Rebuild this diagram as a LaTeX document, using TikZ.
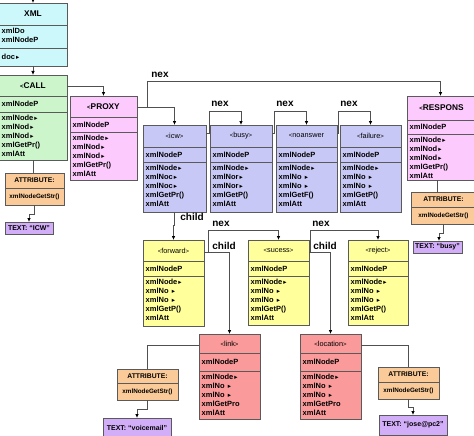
\documentclass[tikz,border=0pt]{standalone}
\usepackage{fontspec}
\setmainfont{Liberation Sans}
\newfontfamily\symf{DejaVu Sans}
\usetikzlibrary{arrows.meta,calc}
\definecolor{bordc}{HTML}{5A5A5A}
\definecolor{linec}{HTML}{505050}
\definecolor{cxml}{HTML}{CCF8FC}
\definecolor{ccall}{HTML}{CCF5CC}
\definecolor{cpink}{HTML}{FCCAFC}
\definecolor{clav}{HTML}{C8C8F6}
\definecolor{cyel}{HTML}{FFFF9C}
\definecolor{cred}{HTML}{FA9A9A}
\definecolor{corg}{HTML}{FACB98}
\definecolor{cpur}{HTML}{D2AEF8}
\newcommand{\mkr}{{\symf\fontsize{6.5}{5}\selectfont\,▸}}
\newcommand{\ltag}{{\fontsize{6}{5}\selectfont<}}
\newcommand{\rtag}{{\fontsize{6}{5}\selectfont>}}
\newcommand{\bt}{\bfseries\fontsize{8.3}{9}\selectfont}
\tikzset{
  box/.style={draw=bordc, line width=0.6pt, rectangle, inner sep=0pt, outer sep=0pt, anchor=north west},
  sep/.style={draw=bordc, line width=0.6pt},
  ttl/.style={inner sep=0pt, font=\fontsize{7.3}{8}\selectfont},
  itm/.style={inner sep=0pt, anchor=west, font=\bfseries\fontsize{7.5}{8.5}\selectfont},
  rows/.style={inner sep=0pt, anchor=north west, align=left, font=\bfseries\fontsize{7.5}{9}\selectfont},
  attt/.style={inner sep=0pt, font=\bfseries\fontsize{6.8}{7}\selectfont},
  attv/.style={inner sep=0pt, font=\bfseries\fontsize{6.3}{7}\selectfont},
  txtbox/.style={box, fill=cpur, font=\bfseries\fontsize{7}{8}\selectfont},
  conn/.style={draw=linec, line width=0.8pt},
  arr/.style={conn, -{Latex[length=4pt,width=3.6pt,color=black]}},
  lbl/.style={inner sep=0pt, font=\bfseries\fontsize{10}{11}\selectfont},
}
% name, x, y, w, h, title h, band h, fill, title
\newcommand{\clsbox}[9]{%
  \node[box, fill=#8, minimum width=#4pt, minimum height=#5pt] (#1) at (#2,-#3) {};
  \coordinate (#1-s1) at ($(#1.north west)+(0,-#6)$);
  \coordinate (#1-s2) at ($(#1.north west)+(0,-#6-#7)$);
  \draw[sep] (#1-s1) -- (#1-s1 -| #1.east);
  \draw[sep] (#1-s2) -- (#1-s2 -| #1.east);
  \node[ttl] (#1-t) at ($(#1.north)+(0,-#6/2)$) {#9};
  \node[itm] (#1-p) at ($(#1.north west)+(2.5,-#6-#7/2)$) {xmlNodeP};
}
\newcommand{\clsrows}[2]{\node[rows] (#1-r) at ($(#1-s2)+(2.5,-2.5)$) {#2};}
% name, x, y, w, h, sep
\newcommand{\attrbox}[6]{%
  \node[box, fill=corg, minimum width=#4pt, minimum height=#5pt] (#1) at (#2,-#3) {};
  \draw[sep] ($(#1.north west)+(0,-#6)$) -- ($(#1.north east)+(0,-#6)$);
  \node[attt] (#1-t) at ($(#1.north)+(0,-#6/2)$) {ATTRIBUTE:};
  \node[attv] (#1-v) at ($(#1.north)+(0,-#6/2-#5/2)$) {xmlNodeGetStr()};
}
\begin{document}
\begin{tikzpicture}[x=1pt,y=1pt]
\useasboundingbox (0,0) rectangle (474,-436);
% XML
\node[box, fill=cxml, minimum width=68pt, minimum height=63pt] (xml) at (-1,-3) {};
\draw[sep] (-1,-25) -- (67,-25);
\draw[sep] (-1,-48) -- (67,-48);
\node[ttl, font=\bt] (xml-t) at (33,-14) {XML};
\node[rows, font=\bfseries\fontsize{7.5}{9}\selectfont] (xml-r) at (1.5,-28) {xmlDo\\xmlNodeP};
\node[itm] (xml-d) at (1.5,-57) {doc\mkr};
% classes
\clsbox{call}{-1}{75}{68}{85}{21}{16}{ccall}{\bt\ltag CALL}
\clsrows{call}{xmlNode\mkr\\xmlNod\mkr\\xmlNod\mkr\\xmlGetPr()\\xmlAtt}
\clsbox{proxy}{70}{96}{67}{84}{21}{15}{cpink}{\bt\ltag PROXY}
\clsrows{proxy}{xmlNode\mkr\\xmlNod\mkr\\xmlNod\mkr\\xmlGetPr()\\xmlAtt}
\clsbox{respons}{407}{96}{69}{84}{24}{14}{cpink}{\bt\ltag RESPONS}
\clsrows{respons}{xmlNode\mkr\\xmlNod\mkr\\xmlNod\mkr\\xmlGetPr()\\xmlAtt}
\clsbox{icw}{143}{125}{63}{87}{22}{15}{clav}{\ltag icw\rtag}
\clsrows{icw}{xmlNode\mkr\\xmlNoc\mkr\\xmlNoc\mkr\\xmlGetPr()\\xmlAtt}
\clsbox{busy}{210}{125}{62}{87}{22}{15}{clav}{\ltag busy\rtag}
\clsrows{busy}{xmlNode\mkr\\xmlNor\mkr\\xmlNor\mkr\\xmlGetP()\\xmlAtt}
\clsbox{noanswer}{276}{125}{61}{87}{22}{15}{clav}{\ltag noanswer}
\clsrows{noanswer}{xmlNode\mkr\\xmlNo\ \mkr\\xmlNo\ \mkr\\xmlGetF()\\xmlAtt}
\clsbox{failure}{340}{125}{61}{87}{22}{15}{clav}{\ltag failure\rtag}
\clsrows{failure}{xmlNode\mkr\\xmlNo\ \mkr\\xmlNo\ \mkr\\xmlGetP()\\xmlAtt}
\clsbox{forward}{143}{240}{61}{86}{21}{15}{cyel}{\ltag forward\rtag}
\clsrows{forward}{xmlNode\mkr\\xmlNo\ \mkr\\xmlNo\ \mkr\\xmlGetP()\\xmlAtt}
\clsbox{sucess}{248}{240}{61}{85}{21}{15}{cyel}{\ltag sucess\rtag}
\clsrows{sucess}{xmlNode\mkr\\xmlNo\ \mkr\\xmlNo\ \mkr\\xmlGetP()\\xmlAtt}
\clsbox{reject}{348}{240}{60}{85}{21}{15}{cyel}{\ltag reject\rtag}
\clsrows{reject}{xmlNode\mkr\\xmlNo\ \mkr\\xmlNo\ \mkr\\xmlGetP()\\xmlAtt}
\clsbox{link}{199}{334}{61}{85}{19}{18}{cred}{\ltag link\rtag}
\clsrows{link}{xmlNode\mkr\\xmlNo\ \mkr\\xmlNo\ \mkr\\xmlGetPro\\xmlAtt}
\clsbox{location}{300}{334}{61}{85}{19}{18}{cred}{\ltag location\rtag}
\clsrows{location}{xmlNode\mkr\\xmlNo\ \mkr\\xmlNo\ \mkr\\xmlGetPro\\xmlAtt}
% attributes
\attrbox{attr1}{5}{173}{59}{32}{15}
\attrbox{attr2}{411}{192}{65}{32}{15}
\attrbox{attr3}{117}{369}{61}{31}{14}
\attrbox{attr4}{378}{367}{61}{32}{15}
% texts
\node[txtbox, minimum width=48pt, minimum height=12pt] (text1) at (5,-222) {TEXT: “ICW”};
\node[txtbox, minimum width=49pt, minimum height=12pt] (text2) at (413,-241) {TEXT: “busy”};
\node[txtbox, minimum width=68pt, minimum height=20pt] (text3) at (103,-418) {TEXT: “voicemail”};
\node[txtbox, minimum width=68pt, minimum height=20pt] (text4) at (379,-415) {TEXT: “jose@pc2”};
% connectors
\coordinate (in) at (33,3);
\draw[arr] (in) -- (xml.north);
\draw[arr] (xml.south) -- (call.north);
\draw[arr] ($(call.north east)+(0,-11)$) -| (proxy.north);
\draw[conn] (call.south) -- (call.south |- attr1.north);
\draw[arr] (attr1.south) -- ++(0,-9) -| (text1.north);
\draw[arr] ($(proxy.north east)+(0,-11)$) -| (icw.north);
\draw[arr] ($(proxy.north east)+(0,-11)$) -- ++(10,0) |- ($(respons.north)+(-1,15)$) -- ($(respons.north)+(-1,0)$);
\draw[arr] ($(icw.north east)+(0,-8)$) -- ++(3,0) |- ($(busy.north)+(0,14)$) -- (busy.north);
\draw[arr] ($(busy.north east)+(0,-8)$) -- ++(2,0) |- ($(noanswer.north)+(0,14)$) -- (noanswer.north);
\draw[arr] ($(noanswer.north east)+(0,-8)$) -- ++(1.5,0) |- ($(failure.north)+(0,14)$) -- (failure.north);
\draw[conn] ($(respons.south west)+(30,0)$) -- ($(attr2.north west)+(26,0)$);
\draw[arr] ($(attr2.south west)+(32,0)$) -- ++(0,-9) -| ($(text2.north west)+(26,0)$);
\draw[arr] (icw.south) -- ++(0,-13) -| (forward.north);
\draw[arr] ($(forward.north east)+(0,-12)$) -- ++(4,0) |- ($(sucess.north)+(0,10)$) -- (sucess.north);
\draw[arr] ($(forward.north east)+(0,-12)$) -| (link.north);
\draw[arr] ($(sucess.north east)+(0,-12)$) -- ++(1,0) |- ($(reject.north)+(0,10)$) -- (reject.north);
\draw[arr] ($(sucess.north east)+(0,-12)$) -| (location.north);
\draw[conn] ($(link.north west)+(0,-11)$) -| (attr3.north);
\draw[arr] (attr3.south) -- ++(0,-9) -| (text3.north);
\draw[conn] ($(location.north east)+(0,-11)$) -| (attr4.north);
\draw[arr] (attr4.south) -- ++(0,-8) -| (text4.north);
% labels
\node[lbl] (nex0) at (160,-75) {nex};
\node[lbl] (nex1) at (220,-104) {nex};
\node[lbl] (nex2) at (285,-104) {nex};
\node[lbl] (nex3) at (349,-104) {nex};
\node[lbl] (child1) at (192,-217) {child};
\node[lbl] (nex4) at (221,-224) {nex};
\node[lbl] (child2) at (224,-246) {child};
\node[lbl] (nex5) at (321,-224) {nex};
\node[lbl] (child3) at (325,-246) {child};
\end{tikzpicture}
\end{document}
